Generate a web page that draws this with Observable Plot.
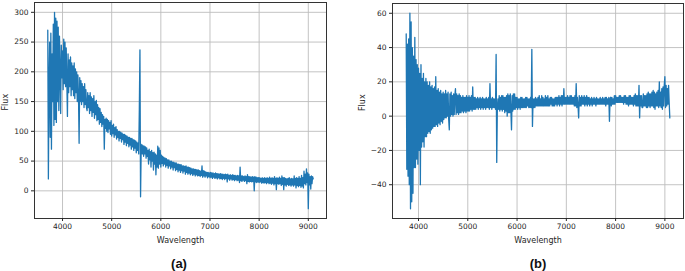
<!DOCTYPE html>
<html><head><meta charset="utf-8">
<script src="https://cdn.jsdelivr.net/npm/d3@7"></script>
<script src="https://cdn.jsdelivr.net/npm/@observablehq/plot@0.6"></script>
<style>
body{margin:0;background:#fff;}
#wrap{position:relative;width:685px;height:271px;overflow:hidden;background:#fff;}
.panel{position:absolute;top:0;}
.lab{position:absolute;font-family:"Liberation Sans",Arial,sans-serif;font-weight:bold;font-size:13px;transform:translate(-50%,-50%);color:#111;white-space:nowrap;}
</style></head><body>
<div id="wrap">
 <div class="panel" id="pa" style="left:0"></div>
 <div class="panel" id="pb" style="left:345px"></div>
 <div class="lab" style="left:179px;top:263px">(a)</div>
 <div class="lab" style="left:538px;top:263px">(b)</div>
</div>
<script>
// Spectra sampled on a regular wavelength grid (Å)
const stepA = 12.5, startA = 3700;
const fluxA = [
 270,20,180,250,90,265,70,230,150,280,110,300,120,290,115,285,
 150,275,135,260,200,130,245,190,235,170,255,180,250,175,240,185,
 125,230,165,220,175,225,160,215,170,210,160,215,155,205,165,200,
 150,195,160,80,190,150,185,145,180,150,175,140,180,145,170,140,
 135,165,140,160,130,165,135,158,125,155,132,160,122,150,128,152,
 118,145,120,140,112,138,115,132,108,128,112,125,70,120,105,122,
 100,120,98,118,104,115,95,118,92,110,96,112,90,106,94,108,
 87,103,90,100,84,100,88,98,82,97,86,95,78,95,82,93,
 76,92,80,90,74,90,77,88,70,88,74,86,68,85,72,84,
 64,82,68,80,62,137,237,-10,70,78,62,76,58,75,62,74,
 55,72,58,68,45,70,52,66,40,68,50,64,35,65,45,62,
 27,60,40,75,38,72,45,68,40,60,46,58,42,56,45,55,
 40,54,43,52,38,52,42,50,37,50,40,48,35,48,39,47,
 34,47,36,45,32,45,35,44,31,44,34,42,30,42,33,41,
 28,42,31,40,28,40,30,39,27,38,29,37,26,37,28,36,
 25,36,27,35,25,35,26,34,24,33,26,42,23,34,25,33,
 23,32,25,31,22,31,24,30,22,31,23,30,21,30,23,29,
 21,30,22,29,20,29,22,28,20,29,21,28,19,28,21,27,
 19,28,21,27,15,28,20,26,18,27,20,26,18,27,19,26,
 17,26,19,25,17,26,18,25,14,40,17,25,16,25,18,24,
 16,25,17,24,12,27,16,24,15,24,16,23,15,24,16,23,
 0,24,15,23,14,22,15,22,14,22,15,21,13,22,14,21,
 13,22,14,21,12,22,14,21,12,23,13,21,11,22,13,21,
 10,24,12,21,2,22,12,21,11,23,12,21,9,25,11,22,
 2,22,10,21,8,20,11,21,9,22,10,20,8,21,10,20,
 8,25,10,21,5,22,9,21,7,24,9,21,6,26,8,22,
 5,33,12,28,10,37,14,30,-30,28,10,24,3,25,12,24,
 20
];
const stepB = 12.5, startB = 3750;
const fluxB = [
 48,-31,42,-35,45,-40,60,-54,55,-50,40,-45,35,-30,46,-30,
 33,-25,30,-28,28,-20,25,-40,30,-18,22,-15,25,-18,20,-12,
 22,-12,20,-10,18,-9,20,-10,17,-8,18,-7,16,-6,17,-6,
 23,-5,15,-6,16,-4,14,-5,15,-3,13,-4,14,-2,13,-1,
 15,-1,13,0,14,-2,-8,13,0,14,1,12,0,13,1,12,
 16,1,13,2,12,1,13,2,12,2,11,3,12,2,11,3,
 11,2,12,3,11,3,12,3,11,4,12,3,17,4,11,4,
 11,4,10,5,11,4,10,5,11,4,10,5,11,4,10,5,
 10,4,11,5,10,5,11,4,19,5,10,4,11,5,10,5,
 10,4,36,-27,5,10,4,12,3,11,4,12,3,12,4,11,
 2,11,3,12,0,13,2,12,2,13,3,-8,12,3,13,4,
 13,4,11,5,11,4,10,5,10,4,11,5,11,5,10,5,
 10,5,11,5,11,6,10,5,10,5,11,5,39,-6,10,5,
 10,5,11,6,10,6,11,6,12,6,10,6,12,6,11,6,
 10,6,12,6,11,6,12,6,10,6,11,7,11,6,10,6,
 10,6,11,7,11,6,11,7,12,6,11,7,12,6,12,7,
 16,7,11,7,11,7,12,7,11,7,12,7,12,7,11,7,
 11,6,12,6,19,5,11,6,-1,12,6,11,6,12,7,11,
 7,12,6,11,7,12,6,11,7,11,6,10,7,11,6,10,
 7,11,7,10,6,11,7,10,7,10,7,11,7,10,7,11,
 7,10,7,11,6,11,7,10,7,11,-3,10,11,6,11,7,
 10,7,12,7,12,8,11,8,11,8,12,8,12,8,11,8,
 11,7,12,8,12,7,11,7,11,6,12,7,12,7,11,7,
 11,6,12,7,13,6,12,6,12,6,18,-1,12,6,12,5,
 5,13,6,12,6,12,5,13,5,14,6,13,5,13,6,14,
 6,15,5,14,4,13,6,14,6,15,5,20,6,14,5,16,
 4,17,6,18,23,5,18,6,16,7,18,8,-1
];
const xTicks = [4000, 5000, 6000, 7000, 8000, 9000];
const yTicksA = [0, 50, 100, 150, 200, 250, 300];
const yTicksB = [-40, -20, 0, 20, 40, 60];
const xLabel = "Wavelength";
const yLabel = "Flux";

const dataA = fluxA.map((f, i) => ({w: startA + stepA * i, f}));
const dataB = fluxB.map((f, i) => ({w: startB + stepB * i, f}));

function panel({data, width, marginLeft, marginRight, marginTop, xDomain, yDomain, yTicks, ylabDx}) {
  const height = 248;
  return Plot.plot({
    width, height, marginLeft, marginRight, marginTop, marginBottom: 30,
    x: {domain: xDomain},
    y: {domain: yDomain},
    style: {fontFamily: "'DejaVu Sans', sans-serif", fontSize: "7.5px", color: "#262626", background: "white", overflow: "visible"},
    marks: [
      Plot.gridX(xTicks, {stroke: "#bcbcbc", strokeOpacity: 1, strokeWidth: 0.9}),
      Plot.gridY(yTicks, {stroke: "#bcbcbc", strokeOpacity: 1, strokeWidth: 0.9}),
      Plot.line(data, {x: "w", y: "f", stroke: "#1f77b4", strokeWidth: 1.3}),
      Plot.frame({stroke: "#333", strokeWidth: 1}),
      Plot.axisX(xTicks, {tickSize: 3, tickPadding: 2, tickFormat: d3.format("d"), label: null}),
      Plot.axisY(yTicks, {tickSize: 3, tickPadding: 3, tickFormat: d3.format("d"), label: null}),
      Plot.text([xLabel], {text: d => d, frameAnchor: "bottom", dy: 22, lineAnchor: "middle", fontSize: 8}),
      Plot.text([yLabel], {text: d => d, frameAnchor: "left", rotate: -90, dx: ylabDx, fontSize: 8})
    ]
  });
}

document.getElementById("pa").append(panel({
  data: dataA, width: 345, marginLeft: 34, marginRight: 19, marginTop: 2,
  xDomain: [3430, 9370], yDomain: [-46.5, 316.5], yTicks: yTicksA, ylabDx: -29
}));
document.getElementById("pb").append(panel({
  data: dataB, width: 340, marginLeft: 47, marginRight: 2, marginTop: 3,
  xDomain: [3472, 9378], yDomain: [-59.7, 65.7], yTicks: yTicksB, ylabDx: -30
}));
</script>
</body></html>
